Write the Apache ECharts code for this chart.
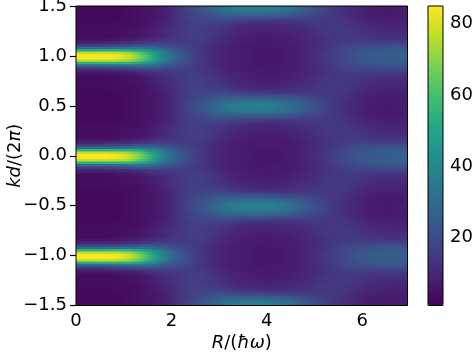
<!DOCTYPE html>
<html>
<head>
<meta charset="utf-8">
<script src="https://cdn.jsdelivr.net/npm/echarts@6/dist/echarts.min.js"></script>
<style>
html, body { margin: 0; padding: 0; background: #fff; }
#main { width: 474px; height: 353px; }
</style>
</head>
<body>
<div id="main"></div>
<script>
// R/(hbar w) column centres
var rCenters = [0.125, 0.375, 0.625, 0.875, 1.125, 1.375, 1.625, 1.875, 2.125, 2.375,
    2.625, 2.875, 3.125, 3.375, 3.625, 3.875, 4.125, 4.375, 4.625, 4.875,
    5.125, 5.375, 5.625, 5.875, 6.125, 6.375, 6.625, 6.875];
// distance of kd/(2pi) from the nearest integer (picture repeats every 1.0)
var dLevels = [0.0125, 0.0375, 0.0625, 0.0875, 0.1125, 0.1375, 0.1625, 0.1875, 0.2125, 0.2375,
    0.2625, 0.2875, 0.3125, 0.3375, 0.3625, 0.3875, 0.4125, 0.4375, 0.4625, 0.4875];
// values, one list per R column, along dLevels
var intensity = [
    [85, 77, 54, 30, 16, 9, 6, 4, 4, 4, 4, 4, 4, 3, 3, 3, 3, 3, 3, 3],
    [85, 77, 54, 30, 16, 9, 6, 4, 4, 4, 4, 4, 4, 3, 3, 3, 3, 3, 3, 3],
    [85, 77, 55, 31, 17, 10, 6, 4, 4, 4, 4, 4, 4, 3, 3, 3, 3, 3, 3, 3],
    [83, 76, 55, 32, 18, 11, 7, 5, 4, 4, 4, 4, 4, 4, 3, 3, 3, 3, 3, 3],
    [78, 72, 54, 33, 20, 12, 8, 6, 5, 5, 5, 5, 4, 4, 4, 4, 4, 4, 4, 4],
    [66, 61, 49, 33, 22, 14, 10, 7, 6, 6, 6, 5, 5, 5, 5, 5, 5, 5, 5, 5],
    [50, 47, 40, 31, 22, 16, 12, 10, 8, 8, 8, 7, 7, 7, 6, 6, 6, 6, 6, 6],
    [36, 34, 30, 25, 20, 16, 14, 12, 11, 11, 11, 10, 10, 9, 9, 8, 8, 8, 8, 8],
    [26, 25, 23, 20, 18, 16, 15, 14, 14, 14, 14, 14, 13, 13, 13, 13, 13, 13, 13, 13],
    [19, 19, 18, 17, 16, 16, 16, 16, 16, 16, 16, 16, 16, 16, 16, 17, 17, 17, 18, 18],
    [14, 14, 14, 14, 14, 15, 15, 16, 16, 16, 16, 16, 17, 17, 18, 19, 20, 21, 22, 22],
    [11, 11, 11, 11, 12, 12, 13, 13, 14, 14, 14, 15, 16, 17, 19, 21, 23, 25, 27, 28],
    [9, 9, 9, 9, 9, 10, 10, 11, 11, 12, 12, 13, 14, 16, 19, 22, 26, 29, 32, 33],
    [8, 8, 8, 8, 8, 8, 9, 9, 9, 10, 10, 11, 12, 14, 17, 21, 26, 30, 34, 36],
    [7, 7, 7, 7, 7, 7, 8, 8, 8, 9, 9, 10, 11, 13, 16, 21, 26, 31, 35, 37],
    [6, 6, 6, 6, 7, 7, 7, 7, 8, 8, 9, 9, 10, 12, 16, 21, 26, 31, 35, 37],
    [6, 6, 6, 7, 7, 7, 7, 7, 8, 8, 9, 9, 10, 12, 15, 20, 25, 30, 34, 36],
    [7, 7, 7, 7, 7, 7, 8, 8, 8, 9, 9, 10, 11, 13, 15, 19, 24, 28, 32, 33],
    [8, 8, 8, 8, 8, 8, 9, 9, 9, 10, 10, 11, 12, 13, 15, 18, 22, 25, 28, 29],
    [10, 10, 10, 10, 10, 10, 10, 11, 11, 11, 12, 12, 13, 14, 15, 17, 19, 21, 23, 24],
    [13, 13, 12, 12, 12, 12, 12, 12, 13, 13, 13, 14, 14, 15, 15, 16, 17, 18, 19, 19],
    [16, 16, 16, 15, 15, 15, 14, 14, 14, 15, 15, 15, 15, 15, 15, 15, 15, 15, 15, 15],
    [19, 19, 18, 18, 17, 16, 15, 15, 15, 15, 15, 14, 14, 14, 13, 13, 13, 12, 12, 12],
    [22, 22, 21, 20, 19, 17, 16, 15, 14, 14, 13, 13, 12, 12, 11, 11, 10, 10, 10, 10],
    [24, 24, 23, 21, 19, 17, 15, 14, 13, 12, 12, 11, 11, 10, 9, 9, 8, 8, 8, 8],
    [25, 25, 24, 22, 20, 17, 15, 13, 12, 11, 11, 10, 10, 9, 8, 8, 7, 7, 7, 7],
    [26, 26, 25, 23, 20, 17, 15, 13, 12, 11, 10, 10, 9, 9, 8, 7, 7, 7, 7, 7],
    [27, 26, 25, 23, 20, 17, 15, 13, 12, 11, 10, 10, 9, 9, 8, 8, 7, 7, 7, 8]
];
var xTicks = [0, 2, 4, 6];
var barTicks = [20, 40, 60, 80];
var viridis = ['#440154', '#482475', '#414487', '#355f8d', '#2a788e', '#21918c',
    '#22a884', '#44bf70', '#7ad151', '#bddf26', '#fde725'];

var font = 'DejaVu Sans';
var fs = 18;
var xMax = 6.95, vMin = 1, vMax = 85, kStep = 0.025;

// one strip per kd/(2pi) row, -1.5 .. 1.5
var rows = [];
for (var j = 0; j < 120; j++) {
    var k0 = -1.5 + j * kStep;
    var kc = k0 + kStep / 2;
    var d = Math.abs(kc - Math.round(kc));
    var idx = Math.round((d - dLevels[0]) / kStep);
    if (idx < 0) idx = 0;
    if (idx > dLevels.length - 1) idx = dLevels.length - 1;
    rows.push([k0, k0 + kStep, idx]);
}

function toColor(v) {
    var t = (v - vMin) / (vMax - vMin);
    return echarts.color.lerp(Math.max(0, Math.min(1, t)), viridis);
}

//每一行画一条，颜色沿R方向
function renderRow(params, api) {
    var di = api.value(2);
    var p0 = api.coord([0, api.value(1)]);
    var p1 = api.coord([xMax, api.value(0)]);
    var stops = [];
    for (var i = 0; i < rCenters.length; i++) {
        stops.push({ offset: rCenters[i] / xMax, color: toColor(intensity[i][di]) });
    }
    return {
        type: 'rect',
        shape: { x: p0[0], y: p0[1], width: p1[0] - p0[0], height: p1[1] - p0[1] + 0.8 },
        style: { fill: new echarts.graphic.LinearGradient(0, 0, 1, 0, stops) }
    };
}

function fmt(v) {
    return v.toFixed(1).replace('-', '\u2212');
}

var nameStyle = {
    fontFamily: font, fontSize: fs, color: '#000',
    rich: { i: { fontFamily: font, fontSize: fs, fontStyle: 'italic', color: '#000' } }
};
var tickStyle = { show: true, length: 6, lineStyle: { color: '#000', width: 1.2 } };

var chart = echarts.init(document.getElementById('main'));
var option = {
    animation: false,
    grid: [
        { left: 76, top: 6, width: 331.5, height: 299.5, show: true, borderColor: '#000', borderWidth: 1, z: 10, outerBoundsMode: 'none' },
        { left: 428, top: 6, width: 15, height: 299.5, show: true, borderColor: '#000', borderWidth: 1, z: 10, outerBoundsMode: 'none' }
    ],
    xAxis: [
        {
            type: 'value', gridIndex: 0, min: 0, max: xMax, position: 'bottom',
            name: '{i|R}/({i|ħω})', nameLocation: 'middle', nameGap: 29,
            nameMoveOverlap: false,
            nameTextStyle: nameStyle,
            axisLine: { show: false },
            axisTick: echarts.util.extend({ customValues: xTicks }, tickStyle),
            axisLabel: { fontFamily: font, fontSize: fs, color: '#000', margin: 7, customValues: xTicks },
            splitLine: { show: false }
        },
        { type: 'value', gridIndex: 1, min: 0, max: 1, show: false }
    ],
    yAxis: [
        {
            type: 'value', gridIndex: 0, min: -1.5, max: 1.5, interval: 0.5, position: 'left',
            name: '{i|kd}/(2{i|π})', nameLocation: 'middle', nameGap: 52, nameRotate: 90,
            nameMoveOverlap: false,
            nameTextStyle: nameStyle,
            axisLine: { show: false },
            axisTick: tickStyle,
            axisLabel: { fontFamily: font, fontSize: fs, color: '#000', margin: 9, formatter: fmt },
            splitLine: { show: false }
        },
        {
            type: 'value', gridIndex: 1, min: vMin, max: vMax, position: 'right',
            axisLine: { show: false },
            axisTick: echarts.util.extend({ customValues: barTicks }, tickStyle),
            axisLabel: { fontFamily: font, fontSize: fs, color: '#000', margin: 7, customValues: barTicks },
            splitLine: { show: false }
        }
    ],
    visualMap: {
        type: 'continuous',
        min: vMin, max: vMax,
        dimension: 2,
        seriesIndex: 0,
        orient: 'vertical',
        left: 428, top: 6,
        itemWidth: 15, itemHeight: 299.5,
        padding: 0,
        calculable: false,
        inRange: { color: viridis }
    },
    series: [{
        type: 'custom',
        xAxisIndex: 0,
        yAxisIndex: 0,
        data: rows,
        renderItem: renderRow,
        clip: true,
        progressive: 0
    }]
};
chart.setOption(option);
</script>
</body>
</html>
